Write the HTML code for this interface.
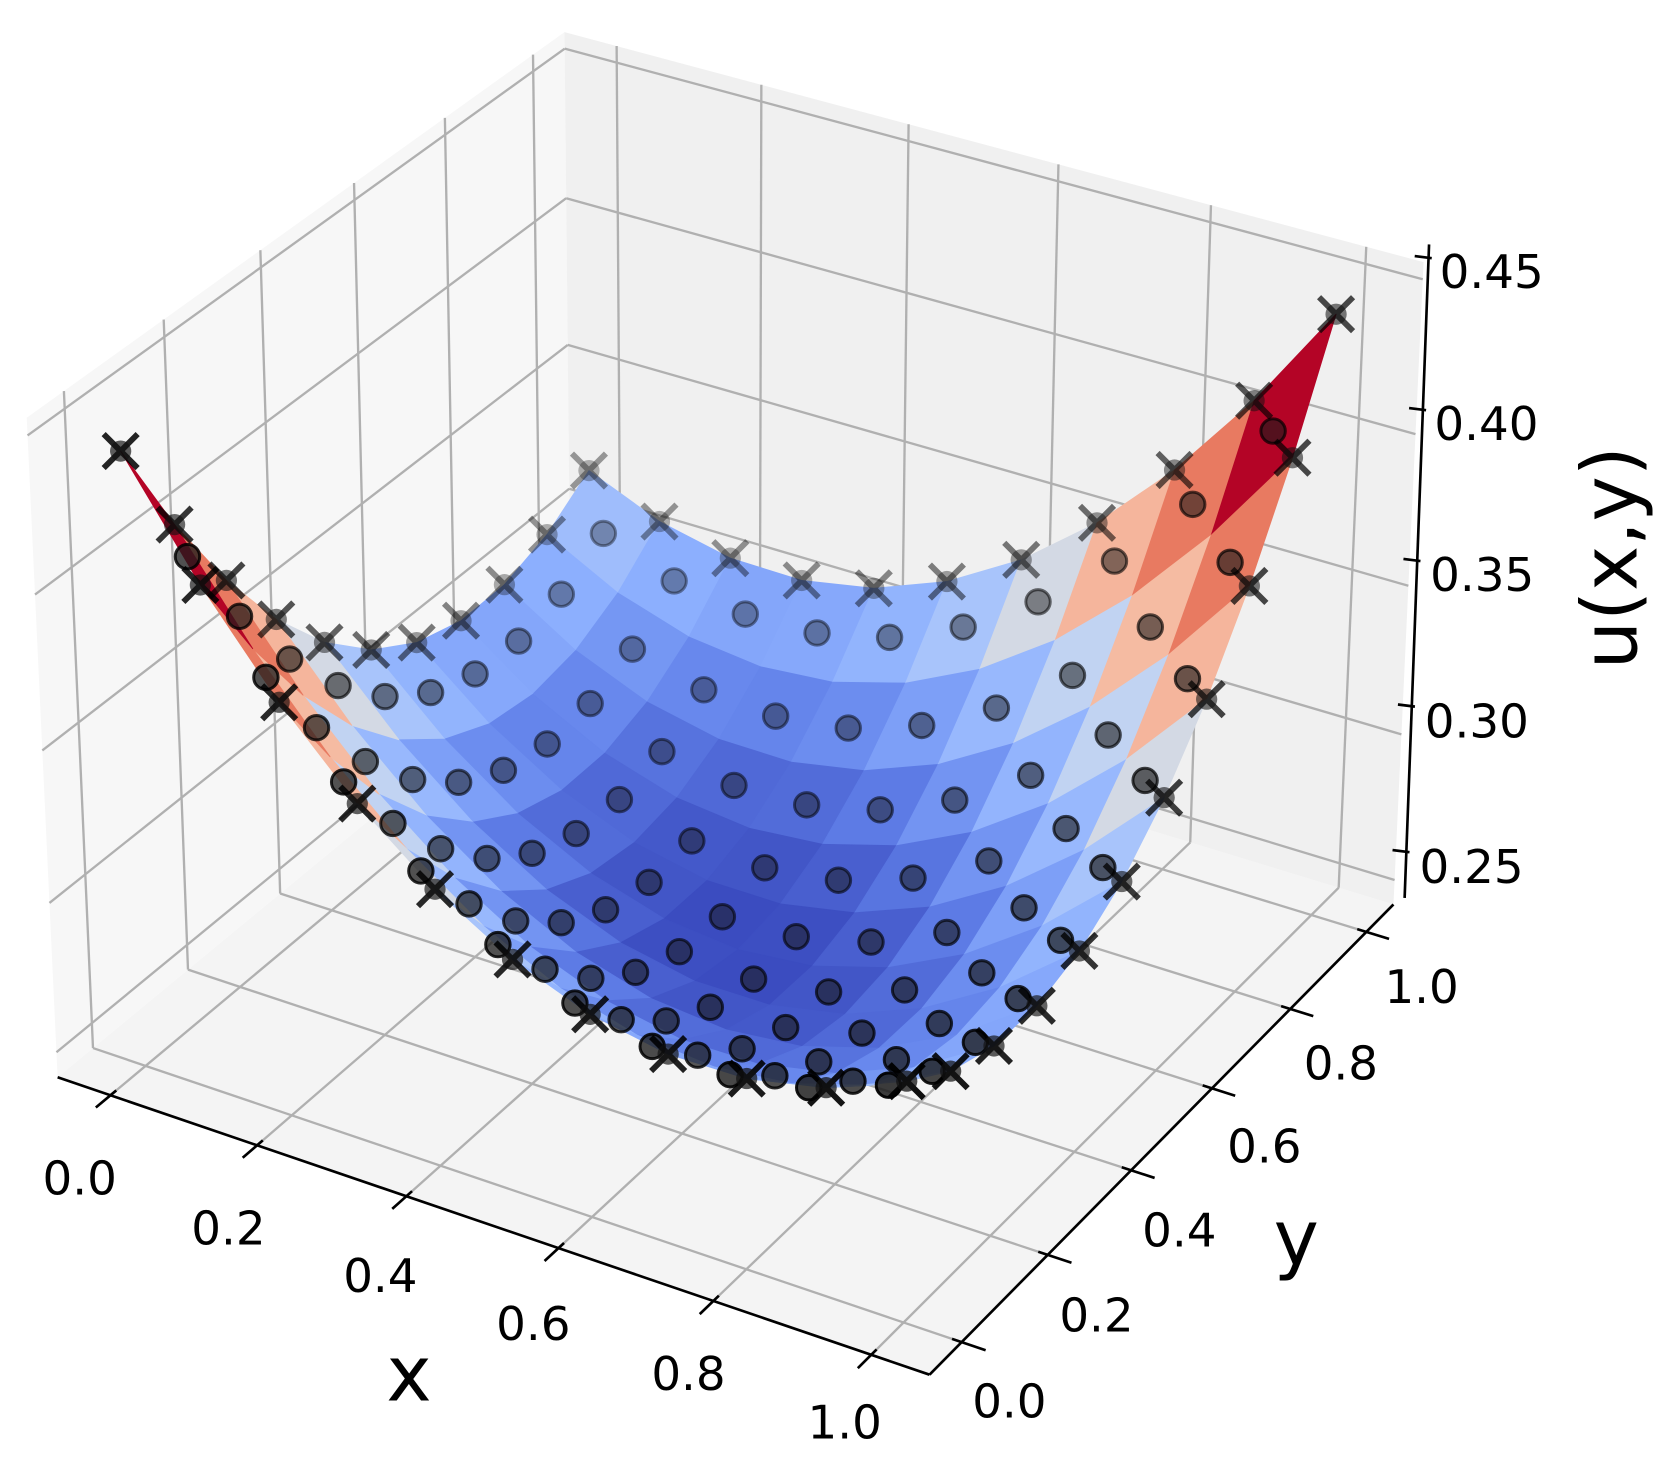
<!DOCTYPE html>
<html><head><meta charset="utf-8"><style>html,body{margin:0;padding:0;background:#fff}svg{display:block}</style></head>
<body>
<svg id="s" xmlns="http://www.w3.org/2000/svg" width="1666" height="1477" viewBox="0 0 1568 1390" preserveAspectRatio="none">
<rect x="0" y="0" width="1568" height="1390" fill="#ffffff"/>
<g id="panes"></g>
<g id="axes"></g>
<g id="surf"></g>
<g id="marks"></g>
<g font-family="DejaVu Sans, Liberation Sans, sans-serif" font-size="44" fill="#000">
<g text-anchor="middle">
<text x="75" y="1124">0.0</text>
<text x="215" y="1171">0.2</text>
<text x="358" y="1216">0.4</text>
<text x="502" y="1261">0.6</text>
<text x="648" y="1308">0.8</text>
<text x="795" y="1354">1.0</text>
<text x="950" y="1334">0.0</text>
<text x="1032" y="1253">0.2</text>
<text x="1110" y="1173">0.4</text>
<text x="1190" y="1094">0.6</text>
<text x="1262" y="1016">0.8</text>
<text x="1338" y="944">1.0</text>
</g>
<text x="1355" y="271">0.45</text>
<text x="1350" y="414">0.40</text>
<text x="1346" y="556">0.35</text>
<text x="1341" y="694">0.30</text>
<text x="1336" y="831">0.25</text>
<text x="385" y="1318" font-size="72" text-anchor="middle">x</text>
<text x="1220" y="1190" font-size="72" text-anchor="middle">y</text>
<text transform="translate(1540,525) rotate(-90)" font-size="72" text-anchor="middle">u(x,y)</text>
</g>
</svg>
<script>
(function(){
const NS="http://www.w3.org/2000/svg";
function mk(tag,attrs,parent){const e=document.createElementNS(NS,tag);for(const k in attrs)e.setAttribute(k,attrs[k]);parent.appendChild(e);return e;}
const R2=Math.PI/180,E=30*R2,A=-60*R2;
const box=[1.142857,1.142857,0.857143];
const w=[Math.cos(E)*Math.cos(A),Math.cos(E)*Math.sin(A),Math.sin(E)];
const u=[-Math.sin(A),Math.cos(A),0];
const v=[w[1]*u[2]-w[2]*u[1],w[2]*u[0]-w[0]*u[2],w[0]*u[1]-w[1]*u[0]];
const XL=[-0.05,1.05],YL=[-0.05,1.05],ZL=[0.2458,0.4512];
const px=1.1/48,pz=(ZL[1]-ZL[0])/48;
const XP=[XL[0]-px,XL[1]+px],YP=[YL[0]-px,YL[1]+px],ZP=[ZL[0]-pz,ZL[1]+pz];
function raw(x,y,z){
 const p=[(x-XL[0])/(XL[1]-XL[0])*box[0]-box[0]/2,(y-YL[0])/(YL[1]-YL[0])*box[1]-box[1]/2,(z-ZL[0])/(ZL[1]-ZL[0])*box[2]-box[2]/2];
 const d=10-(w[0]*p[0]+w[1]*p[1]+w[2]*p[2]);
 return [(u[0]*p[0]+u[1]*p[1]+u[2]*p[2])/d,(v[0]*p[0]+v[1]*p[1]+v[2]*p[2])/d,d];
}
const refs=[[XP[0],YP[0],ZP[0],50,1018],[XP[1],YP[0],ZP[0],878,1282],[XP[1],YP[1],ZP[0],1310,862],[XP[0],YP[1],ZP[1],530,22],[XP[0],YP[0],ZP[1],29,398]];
const M=[[0,0,0],[0,0,0],[0,0,0]],bx=[0,0,0],by=[0,0,0];
refs.forEach(r=>{const q=raw(r[0],r[1],r[2]);const f=[q[0],q[1],1];
 for(let i=0;i<3;i++){for(let j=0;j<3;j++)M[i][j]+=f[i]*f[j];bx[i]+=f[i]*r[3];by[i]+=f[i]*r[4];}});
function det(m){return m[0][0]*(m[1][1]*m[2][2]-m[1][2]*m[2][1])-m[0][1]*(m[1][0]*m[2][2]-m[1][2]*m[2][0])+m[0][2]*(m[1][0]*m[2][1]-m[1][1]*m[2][0]);}
function solve(b){const D=det(M);const r=[];for(let k=0;k<3;k++){const m=M.map((row,i)=>row.map((val,j)=>j===k?b[i]:val));r.push(det(m)/D);}return r;}
const cx=solve(bx),cy=solve(by);
function P(x,y,z){const q=raw(x,y,z);return [cx[0]*q[0]+cx[1]*q[1]+cx[2],cy[0]*q[0]+cy[1]*q[1]+cy[2],q[2]];}
function pts(a){return a.map(p=>p[0].toFixed(2)+","+p[1].toFixed(2)).join(" ");}
const panes=document.getElementById("panes"),axes=document.getElementById("axes");
mk("polygon",{points:pts([P(XP[0],YP[0],ZP[0]),P(XP[1],YP[0],ZP[0]),P(XP[1],YP[1],ZP[0]),P(XP[0],YP[1],ZP[0])]),fill:"#f4f4f4"},panes);
mk("polygon",{points:pts([P(XP[0],YP[0],ZP[0]),P(XP[0],YP[1],ZP[0]),P(XP[0],YP[1],ZP[1]),P(XP[0],YP[0],ZP[1])]),fill:"#f7f7f7"},panes);
mk("polygon",{points:pts([P(XP[0],YP[1],ZP[0]),P(XP[1],YP[1],ZP[0]),P(XP[1],YP[1],ZP[1]),P(XP[0],YP[1],ZP[1])]),fill:"#f0f0f0"},panes);
const gs={stroke:"#b0b0b0","stroke-width":"2.2",fill:"none"};
function line(a,b,st,par){const o=Object.assign({x1:a[0].toFixed(2),y1:a[1].toFixed(2),x2:b[0].toFixed(2),y2:b[1].toFixed(2)},st);mk("line",o,par);}
const ticks=[0,0.2,0.4,0.6,0.8,1.0],zt=[0.25,0.30,0.35,0.40,0.45];
ticks.forEach(t=>{
 line(P(t,YP[0],ZP[0]),P(t,YP[1],ZP[0]),gs,panes);
 line(P(XP[0],t,ZP[0]),P(XP[1],t,ZP[0]),gs,panes);
 line(P(XP[0],t,ZP[0]),P(XP[0],t,ZP[1]),gs,panes);
 line(P(t,YP[1],ZP[0]),P(t,YP[1],ZP[1]),gs,panes);
});
zt.forEach(z=>{
 line(P(XP[0],YP[0],z),P(XP[0],YP[1],z),gs,panes);
 line(P(XP[0],YP[1],z),P(XP[1],YP[1],z),gs,panes);
});
const as={stroke:"#000","stroke-width":"2.5"};
line(P(XP[0],YP[0],ZP[0]),P(XP[1],YP[0],ZP[0]),as,axes);
line(P(XP[1],YP[0],ZP[0]),P(XP[1],YP[1],ZP[0]),as,axes);
ticks.forEach(t=>{
 line(P(t,YP[0]+0.012,ZP[0]),P(t,YP[0]-0.03,ZP[0]),as,axes);
 line(P(XP[1]-0.012,t,ZP[0]),P(XP[1]+0.03,t,ZP[0]),as,axes);
});
mk("line",{x1:1322,y1:845,x2:1345,y2:230,stroke:"#000","stroke-width":"2.5"},axes);
[[0.45,243],[0.40,386],[0.35,528],[0.30,665],[0.25,802]].forEach(a=>{
 const t=(845-a[1])/(845-230);const x=1322+23*t;
 mk("line",{x1:(x-13).toFixed(1),y1:a[1]-2,x2:(x+3).toFixed(1),y2:a[1],stroke:"#000","stroke-width":"2.5"},axes);
});
const a0=0.2551,b0=0.2517,c0=0.2438;
function f(x,y){const X=x-0.5,Y=y-0.5;return a0+b0*(X*X+Y*Y)+c0*X*Y;}
const N=10;
const G=[];for(let i=0;i<=N;i++){G[i]=[];for(let j=0;j<=N;j++){G[i][j]=f(i/N,j/N);}}
const cmap=[[0,59,76,192],[0.143,98,130,234],[0.286,141,176,254],[0.429,184,208,249],[0.5,221,220,220],[0.571,245,196,173],[0.714,244,154,123],[0.857,222,96,76],[1,180,4,38]];
function col(t){t=Math.max(0,Math.min(1,t));for(let k=1;k<cmap.length;k++){if(t<=cmap[k][0]){const a=cmap[k-1],b=cmap[k],s=(t-a[0])/(b[0]-a[0]);return "rgb("+[1,2,3].map(i=>Math.round(a[i]+(b[i]-a[i])*s)).join(",")+")";}}return "rgb(180,4,38)";}
const faces=[];let fmin=1e9,fmax=-1e9;
for(let i=0;i<N;i++)for(let j=0;j<N;j++){
 const q=[[i,j],[i+1,j],[i+1,j+1],[i,j+1]].map(c=>P(c[0]/N,c[1]/N,G[c[0]][c[1]]));
 const zm=(G[i][j]+G[i+1][j]+G[i+1][j+1]+G[i][j+1])/4;
 fmin=Math.min(fmin,zm);fmax=Math.max(fmax,zm);
 const d=(q[0][2]+q[1][2]+q[2][2]+q[3][2])/4;
 faces.push({q,zm,d});
}
faces.sort((a,b)=>b.d-a.d);
const surf=document.getElementById("surf");
faces.forEach(F=>{const c=col((F.zm-fmin)/(fmax-fmin));mk("polygon",{points:pts(F.q),fill:c,stroke:c,"stroke-width":"0.8","stroke-linejoin":"round"},surf);});
const marks=document.getElementById("marks");
const dots=[];for(let i=0;i<10;i++)for(let j=0;j<10;j++){const x=(i+0.5)/10,y=(j+0.5)/10;dots.push(P(x,y,f(x,y)));}
const xs=[];for(let k=0;k<=10;k++){const t=k/10;[[t,0],[t,1],[0,t],[1,t]].forEach(c=>{if(xs.some(e=>e.k===c.join()))return;xs.push({k:c.join(),p:P(c[0],c[1],f(c[0],c[1]))});});}
function alph(list){let mn=1e9,mx=-1e9;list.forEach(p=>{mn=Math.min(mn,p[2]);mx=Math.max(mx,p[2]);});return p=>1-0.6*(p[2]-mn)/(mx-mn);}
const ad=alph(dots);dots.sort((a,b)=>b[2]-a[2]);
dots.forEach(p=>{const a=ad(p);mk("circle",{cx:p[0].toFixed(2),cy:p[1].toFixed(2),r:"11.5",fill:"#1a1a1a","fill-opacity":(0.85*a).toFixed(3),stroke:"#000","stroke-opacity":(0.95*a).toFixed(3),"stroke-width":"2.8"},marks);});
const xp=xs.map(e=>e.p);const ax=alph(xp);xp.sort((a,b)=>b[2]-a[2]);
xp.forEach(p=>{const a=ax(p);const h=16;const op=(0.95*a).toFixed(3);
 mk("path",{d:"M"+(p[0]-h)+","+(p[1]-h)+"L"+(p[0]+h)+","+(p[1]+h)+"M"+(p[0]-h)+","+(p[1]+h)+"L"+(p[0]+h)+","+(p[1]-h),stroke:"#000","stroke-opacity":op,"stroke-width":"5.5",fill:"none"},marks);
 mk("circle",{cx:p[0].toFixed(2),cy:p[1].toFixed(2),r:"10",fill:"#111","fill-opacity":(0.75*a).toFixed(3)},marks);
});
})();
</script>
</body></html>
